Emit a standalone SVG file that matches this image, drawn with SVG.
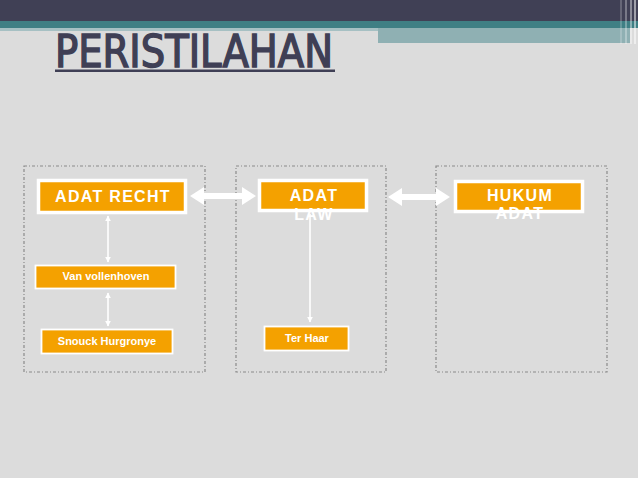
<svg xmlns="http://www.w3.org/2000/svg" width="638" height="478" viewBox="0 0 638 478">
<defs>
<style>
.frame{fill:none;stroke:#8a8a8a;stroke-width:1.2;stroke-dasharray:3 2 1 2}
.node{fill:#f4a100;stroke:#ffffff}
.big{stroke-width:3.5}
.small{stroke-width:1.8}
.lbl{font-family:"Liberation Sans",Arial,sans-serif;font-weight:bold;fill:#ffffff;text-anchor:middle}
.lb{font-size:16px;letter-spacing:1.3px}
.ls{font-size:11px}
.thin{stroke:#ffffff;stroke-width:1.6;fill:none}
</style>
<marker id="ah" viewBox="0 0 10 10" refX="9" refY="5" markerWidth="6" markerHeight="6" orient="auto-start-reverse" markerUnits="userSpaceOnUse">
<path d="M0,0 L10,5 L0,10 z" fill="#ffffff"/>
</marker>
</defs>
<rect x="0" y="0" width="638" height="478" fill="#dcdcdc"/>
<g id="header">
<rect x="0" y="0" width="638" height="21" fill="#404055"/>
<rect x="0" y="21" width="638" height="7" fill="#3f7f84"/>
<rect x="0" y="28" width="378" height="3" fill="#a6c0c3"/>
<rect x="378" y="28" width="252" height="15" fill="#8fb0b3"/>
<rect x="620" y="0" width="2" height="44" fill="#ffffff" opacity="0.2"/>
<rect x="625" y="0" width="2" height="44" fill="#ffffff" opacity="0.3"/>
<rect x="630" y="0" width="2" height="44" fill="#ffffff" opacity="0.4"/>
<rect x="634" y="0" width="2" height="44" fill="#ffffff" opacity="0.5"/>
</g>
<g id="title">
<text x="55" y="67" font-family="'DejaVu Sans Condensed','Liberation Sans Narrow','Liberation Sans',sans-serif" font-weight="normal" font-size="44" fill="#3f3f55" stroke="#3f3f55" stroke-width="1.4" textLength="278" lengthAdjust="spacingAndGlyphs">PERISTILAHAN</text>
<rect x="55" y="69.5" width="280" height="2.5" fill="#3f3f55"/>
</g>
<g id="frames">
<rect class="frame" x="24" y="166" width="181" height="206"/>
<rect class="frame" x="236" y="166" width="150" height="206"/>
<rect class="frame" x="436" y="166" width="171" height="206"/>
</g>
<g id="connectors">
<polygon points="190,196 204,187 204,193 242,193 242,187 256,196 242,205 242,199 204,199 204,205" fill="#ffffff"/>
<polygon points="388,197 402,188 402,194 436,194 436,188 450,197 436,206 436,200 402,200 402,206" fill="#ffffff"/>
<line class="thin" x1="108" y1="216" x2="108" y2="262" marker-start="url(#ah)" marker-end="url(#ah)"/>
<line class="thin" x1="108" y1="293" x2="108" y2="326" marker-start="url(#ah)" marker-end="url(#ah)"/>
<line class="thin" x1="310" y1="214" x2="310" y2="322" marker-end="url(#ah)"/>
</g>
<g id="adat-recht">
<rect class="node big" x="38.5" y="180.5" width="147" height="32"/>
<text class="lbl lb" x="113" y="201.5">ADAT RECHT</text>
</g>
<g id="adat-law">
<rect class="node big" x="259.5" y="180.5" width="107" height="30"/>
<text class="lbl lb" x="314" y="200.5" fill="#fff6dc">ADAT</text>
<text class="lbl lb" x="314" y="220">LAW</text>
</g>
<g id="hukum-adat">
<rect class="node big" x="455.5" y="181.5" width="127" height="30"/>
<text class="lbl lb" x="520" y="201">HUKUM</text>
<text class="lbl lb" x="520" y="219">ADAT</text>
</g>
<g id="van-vollenhoven">
<rect class="node small" x="35.5" y="265.5" width="140" height="23"/>
<text class="lbl ls" x="106" y="280">Van vollenhoven</text>
</g>
<g id="snouck-hurgronye">
<rect class="node small" x="41.5" y="329.5" width="131" height="24"/>
<text class="lbl ls" x="107" y="345">Snouck Hurgronye</text>
</g>
<g id="ter-haar">
<rect class="node small" x="264.5" y="326.5" width="84" height="24"/>
<text class="lbl ls" x="307" y="342">Ter Haar</text>
</g>
</svg>
